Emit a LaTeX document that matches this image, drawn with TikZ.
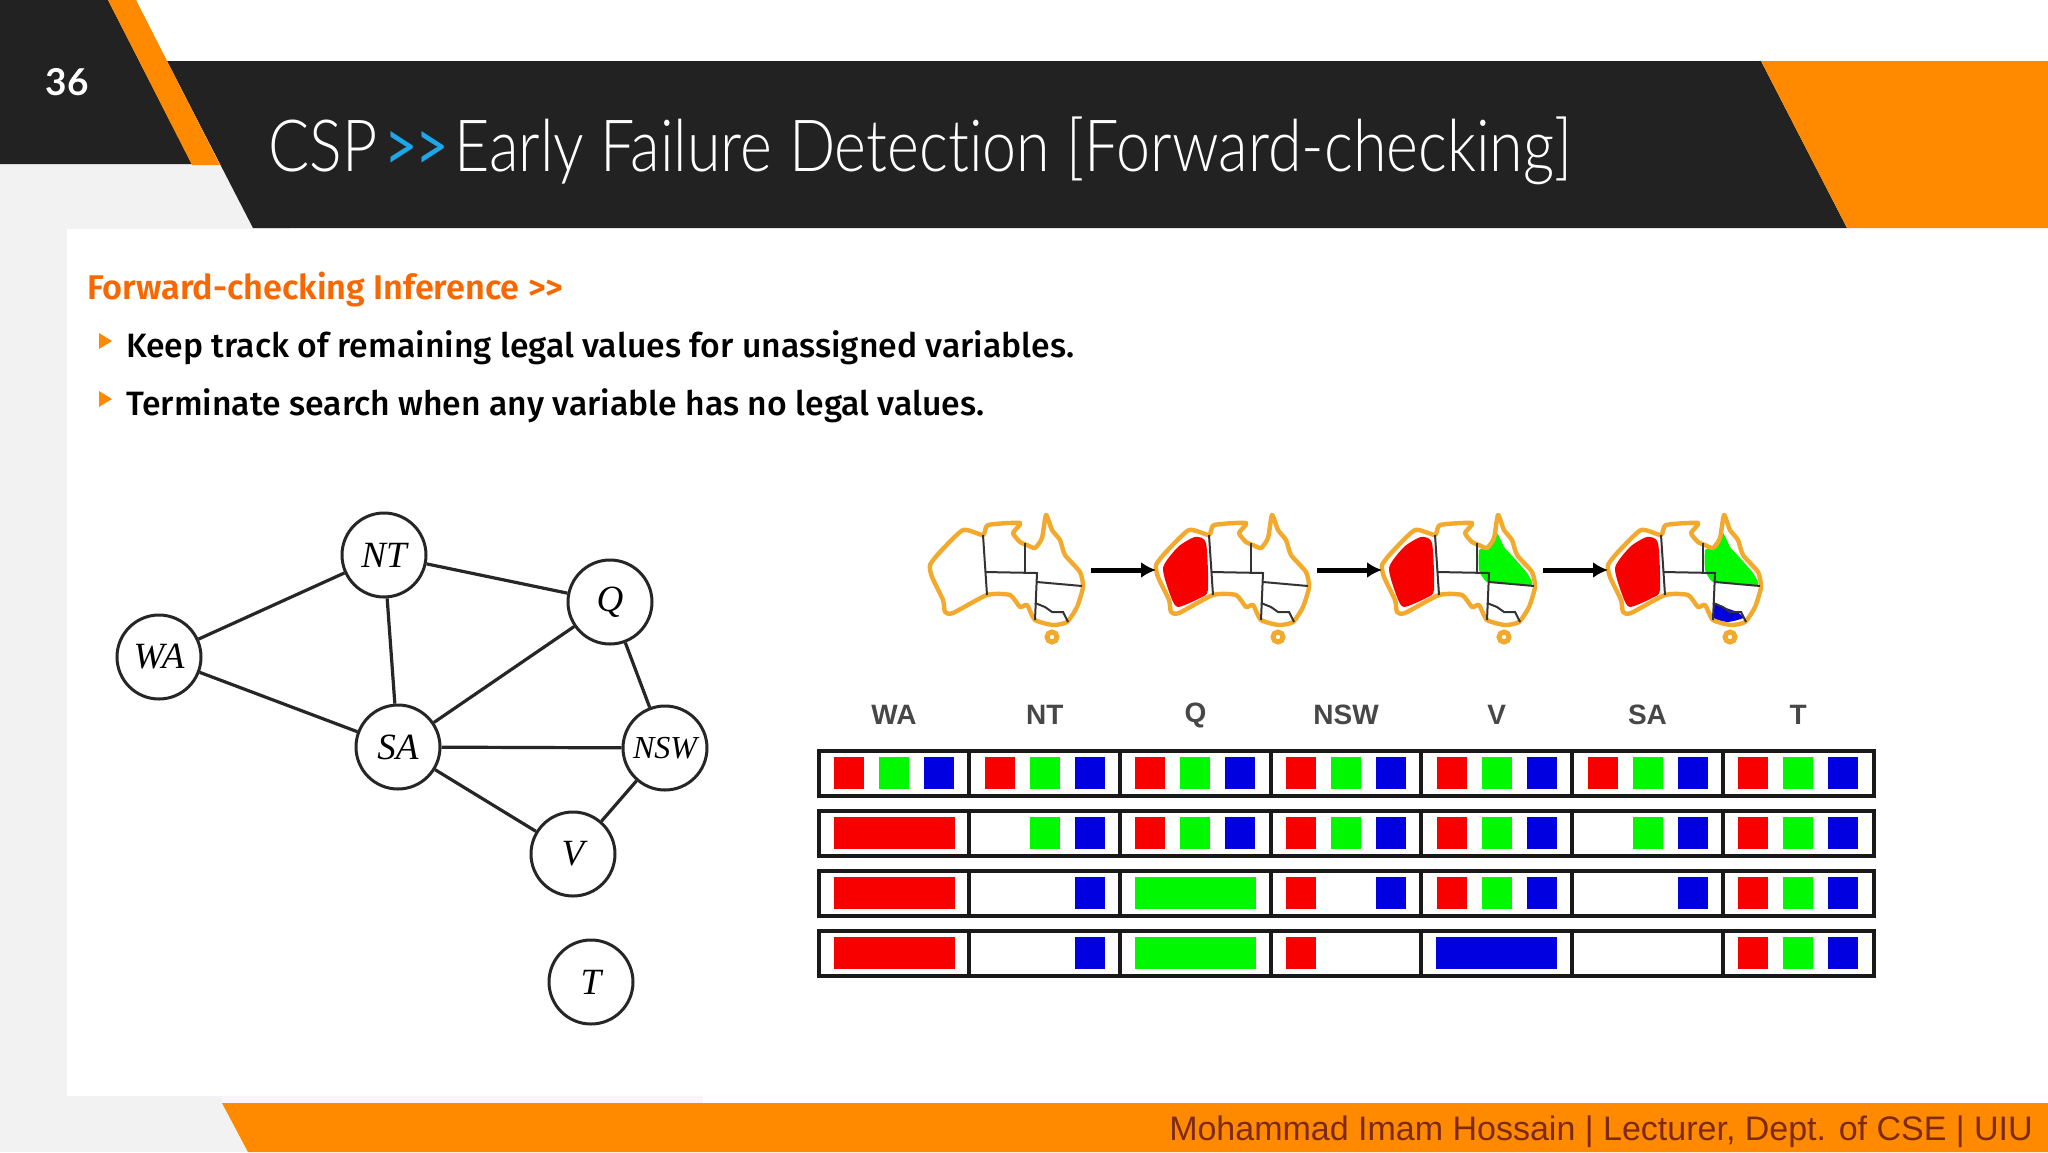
\documentclass[tikz,border=0pt]{standalone}
\usepackage{fontspec}
\setmainfont{Liberation Sans}
\newfontfamily\titlefont[FakeStretch=0.847, Ligatures=NoCommon]{Lato Light}
\newfontfamily\chevfont[FakeStretch=0.8]{Lato}
\newfontfamily\bodyfont{Fira Sans Medium}
\newfontfamily\headfont{Fira Sans SemiBold}
\newfontfamily\numfont{Lato}
\newfontfamily\graphfont{Liberation Serif}
\usetikzlibrary{arrows.meta, positioning, calc}
\definecolor{darkband}{HTML}{222222}
\definecolor{bandorange}{HTML}{FF8A00}
\definecolor{paleback}{HTML}{F2F2F2}
\definecolor{headorange}{HTML}{F96800}
\definecolor{chevblue}{HTML}{1CA7E8}
\definecolor{mapred}{HTML}{F80000}
\definecolor{mapgreen}{HTML}{00F800}
\definecolor{mapblue}{HTML}{0000E0}
\definecolor{maprim}{HTML}{F2A92C}
\definecolor{footbrown}{HTML}{7C2A12}

% one Australia outline at the origin of its scope
\newcommand{\ausoutline}{plot[smooth cycle, tension=0.35] coordinates {(-73,-5) (-63,-18) (-40,-40) (-20,-35) (-15,-45) (17,-47) (10,-37) (17,-28) (24,-25) (32,-22) (39,-32) (43,-55) (49,-40) (57,-30) (62,-15) (77,2) (80,17) (74,37) (64,52) (50,55) (32,50) (24,35) (17,37) (7,25) (-16,25) (-50,43) (-58,42) (-60,30) (-71,7)}}
\newcommand{\regionwa}{plot[smooth cycle, tension=0.4] coordinates {(-66,-2) (-51,-23) (-34,-33) (-23,-27) (-21,20) (-29,28) (-51,37) (-58,27)}}
\newcommand{\regionq}{plot[smooth cycle, tension=0.2] coordinates {(24,-20) (32,-23) (42,-37) (49,-23) (59,-12) (72,3) (77,15) (32,12) (24,0)}}
\newcommand{\regionv}{plot[smooth cycle, tension=0.4] coordinates {(34,33) (42,37) (56,42) (62,48) (46,52) (31,48) (32,42)}}
\newcommand{\ausmap}[2]{\begin{scope}[shift={(#1)}]
  #2
  \draw[maprim, line width=4.4pt, line join=round] \ausoutline;
  \draw[maprim, line width=5pt] (49,67) circle (5);
  \draw[mapline] (-20,-35) -- (-16,25);
  \draw[mapline] (-18,2) -- (34,3) -- (32,50);
  \draw[mapline] (22,-27) -- (22,2);
  \draw[mapline] (34,12) -- (79,16);
  \draw[mapline] (32,33) -- (42,37) -- (49,42) -- (60,42) -- (65,52);
\end{scope}}
\tikzset{
  state/.style={circle, draw=black!85, line width=3pt, minimum size=84pt, inner sep=0pt, fill=white,
    font=\graphfont\itshape\fontsize{37}{37}\selectfont},
  edge/.style={draw=black!85, line width=3.2pt},
  mapline/.style={draw=black!80, line width=2pt},
  maparrow/.style={-{Latex[length=15pt, width=16pt]}, draw=black, line width=5pt},
  colhead/.style={text=black!72, font=\bfseries\fontsize{28}{28}\selectfont},
  domcell/.style={draw=black!90, line width=4pt, minimum width=150.7pt, minimum height=45pt, inner sep=0pt, fill=white},
  rsq/.style={fill=mapred, minimum width=30pt, minimum height=32pt, inner sep=0pt},
  gsq/.style={fill=mapgreen, minimum width=30pt, minimum height=32pt, inner sep=0pt},
  bsq/.style={fill=mapblue, minimum width=30pt, minimum height=32pt, inner sep=0pt},
  rbar/.style={fill=mapred, minimum width=121pt, minimum height=32pt, inner sep=0pt},
  gbar/.style={fill=mapgreen, minimum width=121pt, minimum height=32pt, inner sep=0pt},
  bbar/.style={fill=mapblue, minimum width=121pt, minimum height=32pt, inner sep=0pt},
  bullet/.style={fill=bandorange, draw=none},
  bodyline/.style={anchor=base west, inner sep=0pt, text=black, font=\bodyfont\fontsize{33.75}{33.75}\selectfont}
}
\begin{document}
\begin{tikzpicture}[x=1pt, y=-1pt]
\useasboundingbox (0,0) rectangle (2048,1152);

% backdrop
\fill[white] (0,0) rectangle (2048,1152);
\fill[paleback] (0,164) rectangle (290,1152);
\fill[paleback!70] (222,1096) rectangle (703,1103);
\fill[white] (67,229) rectangle (2048,1096);

% title band
\fill[darkband] (0,0) -- (108,0) -- (192,164) -- (0,164) -- cycle;
\fill[darkband] (167,61) -- (1761,61) -- (1847,228) -- (253,228) -- cycle;
\fill[bandorange] (108,0) -- (136,0) -- (220,165) -- (192,165) -- cycle;
\fill[bandorange] (1761,61) -- (2048,61) -- (2048,228) -- (1847,228) -- cycle;
\fill[bandorange] (222,1103) -- (2048,1103) -- (2048,1152) -- (248,1152) -- cycle;

\node[anchor=center, inner sep=0pt, text=white, font=\numfont\bfseries\fontsize{37}{37}\selectfont] (slidenum) at (67,82) {36};
\node[anchor=base west, inner sep=0pt, text=white, font=\titlefont\fontsize{72}{72}\selectfont] (title) at (268,171)
  {CSP\kern-9pt\ {\color{chevblue}\chevfont>\kern-3pt>}\kern-11pt\ Early Failure Detection [Forward-checking]};

% text
\node[anchor=base west, inner sep=0pt, text=headorange, font=\headfont\fontsize{34.25}{34.25}\selectfont] (heading) at (87,299) {Forward-checking Inference >>};
\fill[bullet] (99,333) -- (112,341) -- (99,349) -- cycle;
\node[bodyline] (lineone) at (126,357) {Keep track of remaining legal values for unassigned variables.};
\fill[bullet] (99,391) -- (112,399) -- (99,407) -- cycle;
\node[bodyline] (linetwo) at (126,415) {Terminate search when any variable has no legal values.};

% constraint graph
\node[state] (wa) at (159,657) {WA};
\node[state] (nt) at (384,555) {NT};
\node[state] (q) at (610,602) {Q};
\node[state] (sa) at (398,747) {SA};
\node[state, font=\graphfont\itshape\fontsize{32}{32}\selectfont] (nsw) at (665,748) {NSW};
\node[state] (v) at (573,854) {V};
\node[state] (t) at (591,982) {T};
\draw[edge] (wa) -- (nt);
\draw[edge] (wa) -- (sa);
\draw[edge] (nt) -- (q);
\draw[edge] (nt) -- (sa);
\draw[edge] (q) -- (sa);
\draw[edge] (q) -- (nsw);
\draw[edge] (sa) -- (nsw);
\draw[edge] (sa) -- (v);
\draw[edge] (nsw) -- (v);

% maps
\ausmap{1003,570}{}
\ausmap{1229,570}{\fill[mapred] \regionwa;}
\ausmap{1455,570}{\fill[mapred] \regionwa; \fill[mapgreen] \regionq;}
\ausmap{1681,570}{\fill[mapred] \regionwa; \fill[mapgreen] \regionq; \fill[mapblue] \regionv;}
\coordinate (mapa) at (1091,570);
\coordinate (mapb) at (1156,570);
\coordinate (mapc) at (1317,570);
\coordinate (mapd) at (1382,570);
\coordinate (mape) at (1543,570);
\coordinate (mapf) at (1608,570);
\draw[maparrow] (mapa) -- (mapb);
\draw[maparrow] (mapc) -- (mapd);
\draw[maparrow] (mape) -- (mapf);

% domains table
\foreach \name/\col in {WA/0, NT/1, Q/2, NSW/3, V/4, SA/5, T/6}
  \node[colhead] (head\col) at ({894+150.7*\col},715) {\name};
\foreach \row/\ypos in {0/773, 1/833, 2/893, 3/953}
  \foreach \col in {0,...,6}
    \node[domcell] (cell\row\col) at ({894+150.7*\col},\ypos) {};

% squares left in each row
\foreach \row/\cols in {0/{0,1,2,3,4,5,6}, 1/{2,3,4,6}, 2/{3,4,6}, 3/{3,6}}
  \foreach \col in \cols
    \node[rsq] (red\row\col) at ($(cell\row\col)+(-45,0)$) {};
\foreach \row/\cols in {0/{0,1,2,3,4,5,6}, 1/{1,2,3,4,5,6}, 2/{4,6}, 3/{6}}
  \foreach \col in \cols
    \node[gsq] (green\row\col) at (cell\row\col) {};
\foreach \row/\cols in {0/{0,1,2,3,4,5,6}, 1/{1,2,3,4,5,6}, 2/{1,3,4,5,6}, 3/{1,6}}
  \foreach \col in \cols
    \node[bsq] (blue\row\col) at ($(cell\row\col)+(45,0)$) {};
\node[rbar] (barwa1) at (cell10) {};
\node[rbar] (barwa2) at (cell20) {};
\node[rbar] (barwa3) at (cell30) {};
\node[gbar] (barq2) at (cell22) {};
\node[gbar] (barq3) at (cell32) {};
\node[bbar] (barv3) at (cell34) {};

% footer
\node[anchor=base east, inner sep=0pt, text=footbrown, font=\fontsize{34}{34}\selectfont] (footer) at (2033,1140)
  {Mohammad Imam Hossain | Lecturer, Dept. of CSE | UIU};
\end{tikzpicture}
\end{document}
